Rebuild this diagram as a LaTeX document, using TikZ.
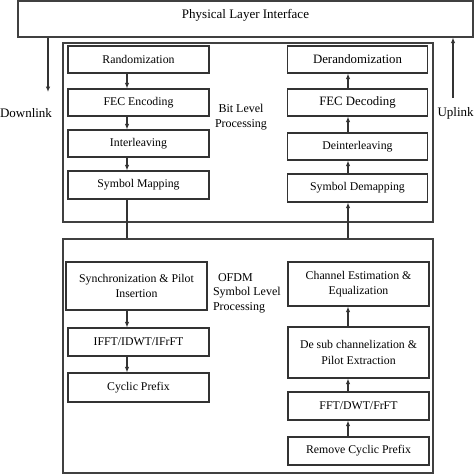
\documentclass[tikz,border=0pt]{standalone}
\usepackage{fontspec}
\setmainfont{Liberation Serif}
\usetikzlibrary{arrows.meta}

\tikzset{
  blk/.style={draw=black!80, line width=1.1pt, inner sep=0pt, align=center,
    font=\fontsize{11.8}{15.5}\selectfont},
  grp/.style={draw=black!75, line width=1.1pt, inner sep=0pt},
  lbl/.style={inner sep=0pt, font=\fontsize{12}{14.5}\selectfont},
}

\begin{document}
\begin{tikzpicture}[x=1pt,y=-1pt,>={Latex[length=5.5pt,width=4.5pt]},line width=1.1pt,draw=black!80]
\useasboundingbox (0,0) rectangle (474,474);
% interface on top
\node[grp, minimum width=455pt, minimum height=36pt, text height=9pt, text depth=11pt,
  font=\fontsize{13}{15}\selectfont] (phy) at (245.5,19) {Physical Layer Interface};
% the two processing groups
\node[grp, minimum width=370pt, minimum height=179pt] (bit) at (248,132.5) {};
\node[grp, minimum width=370pt, minimum height=234pt] (sym) at (248,356) {};

% bit level, transmit side
\node[blk, minimum width=141pt, minimum height=27pt] (rand) at (138.5,59.5) {Randomization};
\node[blk, minimum width=141pt, minimum height=27pt] (fece) at (138.5,102.5) {FEC Encoding};
\node[blk, minimum width=141pt, minimum height=27pt] (intl) at (138.5,143.5) {Interleaving};
\node[blk, minimum width=141pt, minimum height=28pt] (smap) at (138.5,185) {Symbol Mapping};
% bit level, receive side
\node[blk, minimum width=140pt, minimum height=27pt, font=\fontsize{12.8}{15}\selectfont] (derand) at (357.5,59.5) {Derandomization};
\node[blk, minimum width=140pt, minimum height=27pt, font=\fontsize{12.8}{15}\selectfont] (fecd) at (357.5,102.5) {FEC Decoding};
\node[blk, minimum width=140pt, minimum height=27pt] (deint) at (357.5,146.5) {Deinterleaving};
\node[blk, minimum width=140pt, minimum height=28pt] (sdmap) at (357.5,188) {Symbol Demapping};

% symbol level, transmit side
\node[blk, minimum width=141pt, minimum height=48pt] (sync) at (136.5,286) {Synchronization \& Pilot\\Insertion};
\node[blk, minimum width=141pt, minimum height=28pt] (ifft) at (138.5,342) {IFFT/IDWT/IFrFT};
\node[blk, minimum width=141pt, minimum height=29pt] (cp) at (138.5,387.5) {Cyclic Prefix};
% symbol level, receive side
\node[blk, minimum width=141pt, minimum height=44pt] (chest) at (358.5,284) {Channel Estimation \&\\Equalization};
\node[blk, minimum width=141pt, minimum height=51pt] (desub) at (358.5,352.5) {De sub channelization \&\\Pilot Extraction};
\node[blk, minimum width=141pt, minimum height=28pt] (fft) at (358.5,406) {FFT/DWT/FrFT};
\node[blk, minimum width=141pt, minimum height=28pt] (rcp) at (358.5,451) {Remove Cyclic Prefix};

% group labels
\node[lbl, align=center] (bitlbl) at (241,117) {Bit Level\\Processing};
\node[lbl, align=left, anchor=west] (symlbl) at (212.5,293) {\hspace*{5pt}OFDM\\Symbol Level\\Processing};

% downlink / uplink
\coordinate (dl) at (48,92);
\coordinate (ul) at (453,98);
\node[lbl, font=\fontsize{13}{15}\selectfont] (dltxt) at (26,113) {Downlink};
\node[lbl, font=\fontsize{13}{15}\selectfont, anchor=west] (ultxt) at (437,113) {Uplink};
\draw[->] (phy.south -| dl) -- (dl);
\draw[->] (ul) -- (phy.south -| ul);

% chains
\coordinate (la) at (127,0);
\coordinate (ra) at (348,0);
\path[->]
(rand.south -| la) edge (fece.north -| la)
(fece.south -| la) edge (intl.north -| la)
(intl.south -| la) edge (smap.north -| la)
(smap.south -| la) edge[-] (sym.north -| la)
(sync.south -| la) edge (ifft.north -| la)
(ifft.south -| la) edge (cp.north -| la)
(rcp.north -| ra) edge (fft.south -| ra)
(fft.north -| ra) edge (desub.south -| ra)
(desub.north -| ra) edge (chest.south -| ra)
(sym.north -| ra) edge (sdmap.south -| ra)
(sdmap.north -| ra) edge (deint.south -| ra)
(deint.north -| ra) edge (fecd.south -| ra)
(fecd.north -| ra) edge (derand.south -| ra);
\end{tikzpicture}
\end{document}
